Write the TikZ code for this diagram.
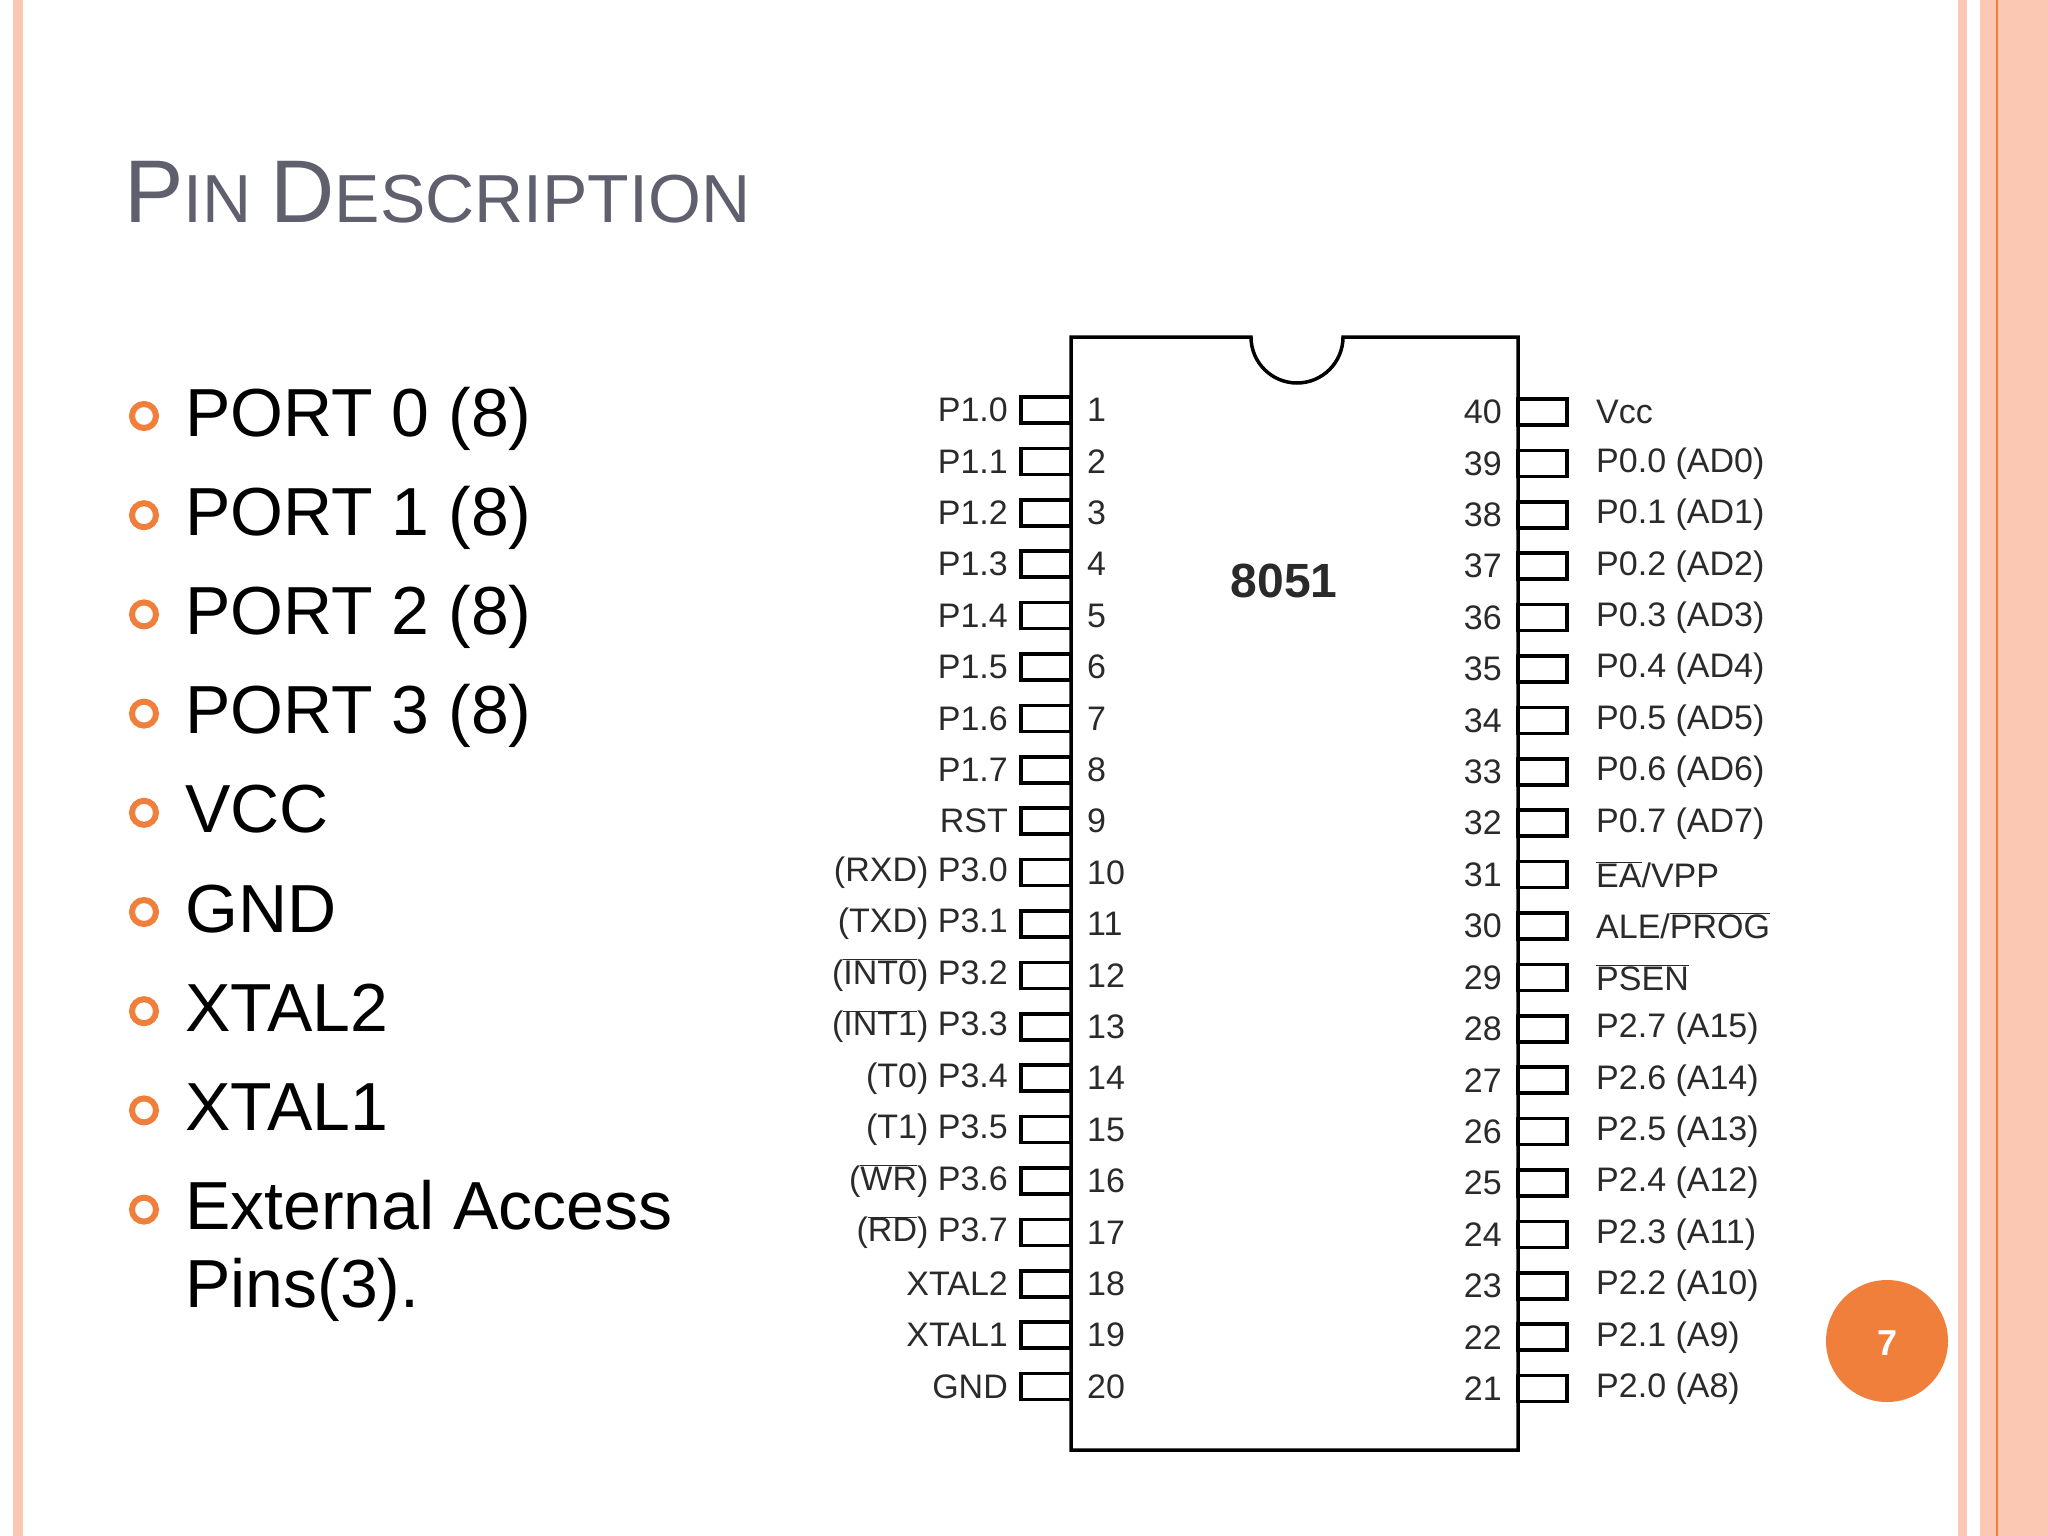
\documentclass[tikz,border=0pt]{standalone}
\usepackage{fontspec}
\setmainfont{Liberation Sans}
\definecolor{peach}{HTML}{FBC8B4}
\definecolor{borange}{HTML}{F07F3C}
\definecolor{ttl}{HTML}{5F5F6E}
\definecolor{pin}{HTML}{2A2A2A}
\newcommand{\ovl}[1]{$\overline{\hbox{#1}}$}
\tikzset{pinlbl/.style={font=\fontsize{34}{34}\selectfont,text=pin,inner sep=0pt},
 pinbox/.style={draw=black,line width=3.5pt},
 bul/.style={font=\fontsize{68}{78}\selectfont,anchor=base west,inner sep=0pt,align=left},
 bdot/.style={draw=borange,line width=6pt,circle,minimum size=24pt,inner sep=0pt}}
\begin{document}
\begin{tikzpicture}[x=1pt,y=-1pt]
\useasboundingbox (0,0) rectangle (2048,1536);
\fill[white] (0,0) rectangle (2048,1536);
% borders
\fill[peach] (13,0) rectangle (23,1536);
\fill[peach] (1958,0) rectangle (1967,1536);
\fill[peach] (1980,0) rectangle (2048,1536);
\draw[borange,line width=2pt] (1997,0) -- (1997,1536);
% title
\node[anchor=base west,inner sep=0pt,text=ttl] (title) at (124,222)
 {\fontsize{89}{92}\selectfont P\fontsize{68}{72}\selectfont IN \fontsize{89}{92}\selectfont D\fontsize{68}{72}\selectfont ESCRIPTION};
% bullets
\foreach \t [count=\i] in {PORT 0 (8),PORT 1 (8),PORT 2 (8),PORT 3 (8),VCC,GND,XTAL2,XTAL1,External Access} {
  \pgfmathsetmacro\yy{436+(\i-1)*99.2}
  \node[bdot] (d\i) at (144,\yy-20) {};
  \node[bul] (b\i) at (185,\yy) {\t};
}
\node[bul] (b10) at (185,1307) {Pins(3).};
% chip
\draw[line width=3.5pt] (1251,337) -- (1071,337) -- (1071,1450) -- (1518,1450) -- (1518,337) -- (1343,337)
  arc[start angle=0,end angle=180,radius=46] -- cycle;
\node[font=\bfseries\fontsize{48}{48}\selectfont,text=pin] (name) at (1284,581) {8051};
\foreach \l [count=\i] in {P1.0,P1.1,P1.2,P1.3,P1.4,P1.5,P1.6,P1.7,RST,(RXD) P3.0,(TXD) P3.1,(\ovl{INT0}) P3.2,(\ovl{INT1}) P3.3,(T0) P3.4,(T1) P3.5,(\ovl{WR}) P3.6,(\ovl{RD}) P3.7,XTAL2,XTAL1,GND} {
  \pgfmathsetmacro\yy{410+(\i-1)*51.4}
  \draw[pinbox] (1021,\yy-13) rectangle (1071,\yy+13);
  \node[pinlbl,anchor=east] (L\i) at (1008,\yy) {\l};
  \node[pinlbl,anchor=west] (N\i) at (1087,\yy) {\i};
}
\foreach \l [count=\i] in {Vcc,P0.0 (AD0),P0.1 (AD1),P0.2 (AD2),P0.3 (AD3),P0.4 (AD4),P0.5 (AD5),P0.6 (AD6),P0.7 (AD7),\ovl{EA}/VPP,ALE/\ovl{PROG},\ovl{PSEN},P2.7 (A15),P2.6 (A14),P2.5 (A13),P2.4 (A12),P2.3 (A11),P2.2 (A10),P2.1 (A9),P2.0 (A8)} {
  \pgfmathsetmacro\yy{412+(\i-1)*51.4}
  \pgfmathtruncatemacro\n{41-\i}
  \draw[pinbox] (1518,\yy-13) rectangle (1567,\yy+13);
  \node[pinlbl,anchor=east] (M\n) at (1502,\yy) {\n};
  \node[pinlbl,anchor=west] (R\n) at (1596,\yy) {\l};
}
% page number
\fill[borange] (1887,1341) circle (61);
\node[text=white,font=\bfseries\fontsize{36}{36}\selectfont] (pg) at (1887,1343) {7};
\end{tikzpicture}
\end{document}
